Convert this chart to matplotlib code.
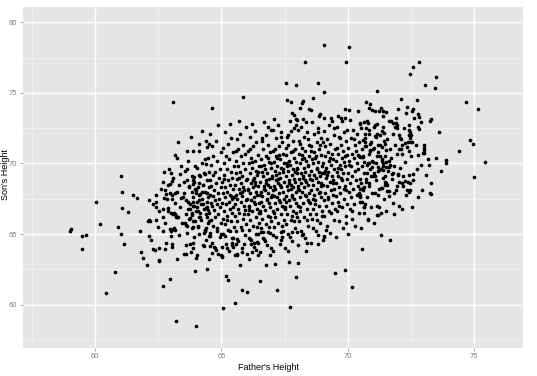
import matplotlib
matplotlib.use("Agg")
import matplotlib.pyplot as plt

# ---- data: (father height, son height) pairs ----
edge_top = [(63.10,74.33),(69.07,78.37),(70.07,78.23),(69.92,77.22),(68.31,77.15),(67.55,75.71),(67.94,75.55),
    (68.84,75.69),(69.05,75.07),(65.86,74.68),(64.63,73.90),(67.59,74.49),(67.76,74.33),(68.23,74.42),(68.19,74.28),
    (68.61,74.65),(68.10,73.94),(67.81,73.59),(67.86,73.43),(68.48,73.85),(68.56,73.80),(69.91,73.87),(70.07,73.78),
    (70.39,73.69),(68.90,73.50),(68.85,73.36),(69.07,73.19),(69.33,73.24),(69.62,73.36),(69.75,73.24),(69.91,73.19),
    (67.95,73.12),(68.00,73.10),(68.24,73.12),(67.08,73.12),
    (72.81,77.19),(72.57,76.80),(72.45,76.35),(73.51,76.09),(73.07,75.57),(73.44,75.34),(71.16,75.10),(72.10,74.58),
    (72.73,74.49),(74.69,74.33),(75.18,73.83),(70.74,74.37),(70.88,74.20),(70.84,73.92),(70.96,73.80),(71.08,73.71),
    (71.25,73.69),(71.38,73.73),(71.50,73.64),(71.31,73.92),(71.41,73.38),(72.00,73.83),(72.36,73.99),(72.60,73.87),
    (72.56,73.73),(72.32,73.59),(71.92,73.19),(72.61,73.19),(72.81,73.26),(73.28,73.12)]

edge_right = [(74.83,71.66),(74.96,71.40),(74.42,70.86),(75.44,70.08),(74.99,69.02),(73.89,70.25),(73.90,70.01),
    (73.03,71.31),(73.03,71.12),(73.04,70.95),(73.04,70.76),(72.97,70.76),(73.19,70.32),(73.22,69.87),(72.75,69.63),
    (72.60,69.24),(72.95,68.11),(73.27,67.89),(73.30,67.84),(72.77,67.63),(72.16,66.74),(71.82,66.41),(71.15,66.36),
    (71.21,66.36),(70.82,66.10),(70.64,66.88),(72.90,72.95),(73.27,73.00),(72.77,72.60),(72.84,72.46),(72.43,72.72),
    (72.43,72.37),(72.48,72.20),(72.42,71.99),(72.52,72.03),(72.48,71.78),(72.53,71.54),(72.49,71.50),(72.07,71.80),
    (72.12,71.76),(72.28,71.47),(72.17,71.33),(72.33,71.19),(72.04,71.00),(72.41,70.88),(72.16,70.65),(72.79,70.58),
    (70.49,70.44),(70.55,70.48),(70.62,70.44),(70.66,70.13),(70.75,69.89),(70.84,70.06),(71.01,70.13),(70.97,69.77),
    (71.17,70.55),(71.28,70.55),(71.37,70.20),(71.41,70.01),(71.31,69.59),(71.39,69.54),(71.24,69.54),(71.21,69.77),
    (71.63,70.18),(71.52,69.77),(71.63,69.77),(70.78,69.31),(70.73,68.71),(70.86,68.60),(70.99,69.12),(71.08,69.12),
    (71.48,68.71),(71.52,68.60),(71.77,69.24),(71.79,69.35),(71.98,69.26),(72.20,69.12),(72.04,68.71),(72.26,68.74),
    (72.37,68.67),(72.45,68.60),(72.20,68.39),(71.95,68.41),(72.33,68.15),(72.41,68.08),(72.48,68.15),(71.63,68.04),
    (71.57,68.08),(71.31,68.27),(71.37,68.27),(71.21,67.77),(70.49,68.18),(70.49,67.75),(70.49,67.61),(70.59,68.25),
    (70.66,66.88),(70.49,72.88),(70.64,72.95),(70.79,72.88),(71.04,72.60),(71.17,72.79),(71.41,72.60),(71.45,72.13),
    (71.28,72.01),(71.08,71.96),(70.68,72.06),(70.72,72.49),(70.86,72.37),(70.62,71.66),(70.67,71.50),(70.67,71.24),
    (70.88,71.38),(70.88,70.95),(71.05,71.12),(71.21,71.31),(71.37,71.19),(71.48,71.36),(71.52,70.93),(71.70,73.03),
    (71.81,72.88),(71.92,72.88),(71.96,72.72),(71.87,72.60)]

edge_left = [(64.13,71.40),(64.50,71.36),(64.42,71.14),(63.89,70.86),(63.26,70.39),(64.37,70.34),(64.39,69.94),
    (64.50,69.38),(64.37,69.24),(63.65,69.59),(62.91,69.59),(62.73,69.38),(63.01,69.35),(63.35,69.26),(61.02,69.12),
    (62.68,68.69),(62.89,68.50),(63.03,68.78),(62.97,68.55),(63.52,68.69),(63.92,68.69),(63.89,68.57),(63.72,68.36),
    (61.08,67.99),(61.50,67.75),(61.67,67.58),(60.04,67.28),(61.07,66.81),(61.31,66.57),(60.21,65.70),(60.92,65.53),
    (59.04,65.37),(62.14,67.42),(62.41,67.73),(62.41,67.26),(62.41,66.90),(62.53,66.62),(62.15,66.01),(62.19,65.89),
    (62.78,68.11),(62.82,67.82),(62.74,67.54),(63.05,67.75),(63.18,67.92),(63.06,67.45),(62.89,66.84),(63.14,66.46),
    (63.22,66.28),(63.09,66.42),(63.27,66.20),(62.78,65.78),(62.97,65.39),(63.10,65.39),
    (64.13,68.60),(63.96,68.20),(63.83,68.01),(64.22,68.01),(64.26,68.48),(64.50,68.36),(64.42,67.30),(64.29,67.12),
    (64.13,67.42),(63.89,67.30),(63.68,67.30),(63.76,66.76),(63.89,67.00),(64.05,66.88),(64.00,66.60),(64.16,66.52),
    (64.38,66.83),(64.48,66.71),(64.43,66.24),(64.13,66.20),(63.83,66.36),(63.76,66.13),(63.86,65.94),(63.60,65.65),
    (63.65,65.58),(63.89,65.53),(64.09,65.58),(64.38,65.42),(64.50,65.89),(63.17,66.43),(63.26,66.24),(62.84,67.47),
    (62.70,66.76),(63.39,67.54),(64.13,69.19),(63.92,69.02),(63.89,68.83),(64.17,67.84),(64.00,67.89),(64.43,67.94),
    (62.20,64.60),(62.50,65.50),(62.70,66.20),(62.30,67.10),(62.90,66.60),(62.60,68.20),(62.10,65.90),(62.80,64.40),
    (62.40,66.00),(62.95,67.90)]

edge_bottom = [(59.01,65.25),(59.49,64.86),(59.64,64.95),(59.49,63.96),(61.03,64.97),(61.13,64.29),(60.78,62.28),
    (60.42,60.80),(61.77,65.21),(62.15,64.86),(61.82,63.75),(61.90,63.27),(62.05,62.81),(62.30,63.96),(62.37,63.84),
    (62.53,64.03),(62.78,63.94),(62.53,63.13),(62.68,65.25),(63.01,65.25),(63.17,65.28),(63.01,64.83),(63.04,64.26),
    (63.26,63.23),(62.95,61.79),(62.68,61.29),(63.22,58.82),(63.98,58.52),(63.59,64.19),(63.87,64.33),(63.89,63.98),
    (63.79,63.75),(63.60,63.56),(64.00,63.30),(64.33,64.15),(63.95,62.35),(64.45,62.54),(64.30,65.09),(64.37,65.25),
    (64.51,64.86),
    (65.05,59.79),(65.55,60.09),(67.72,59.84),(65.82,61.06),(66.00,60.92),(67.19,61.06),(66.54,61.67),(65.19,62.03),
    (65.26,61.72),(67.94,61.93),(69.48,62.24),(69.91,62.47),(70.18,61.25),(65.75,62.83),(66.77,62.78),(67.12,62.90),
    (67.68,63.02),(68.03,62.92),(66.08,63.20),(66.46,63.55),(66.94,63.51),(66.21,63.70),(65.81,63.72),(65.62,63.51),
    (67.64,63.79),(66.96,64.01),(68.39,64.38),(68.81,64.29),(69.05,64.83),(69.06,64.76),(68.20,64.90),(68.00,65.11),
    (67.81,65.14),(67.37,65.11),(67.39,64.78),(67.06,64.90),(71.31,64.93),(71.67,64.55),(70.57,63.94),
    (64.55,64.88),(64.82,65.18),(65.00,64.97),(65.16,64.83),(65.34,65.18),(65.45,64.71),(65.61,64.64),(65.56,64.29),
    (65.41,64.19),(65.45,64.05),(65.41,64.36),(65.01,64.10),(64.74,64.01),(64.56,64.12),(64.63,63.65),(64.86,63.60),
    (64.97,63.53),(65.01,63.41),(65.21,64.01),(65.61,63.56),(66.08,64.71),(66.12,64.64),(66.19,64.29),(66.28,64.36),
    (66.41,64.47),(66.46,64.40),(66.36,65.02),(66.58,65.11),(66.64,65.14),(66.83,65.11),(66.69,64.64),(62.55,63.10)]

core_63 = [(63.04,64.1),(63.31,64.9),(63.12,65.4),(63.43,65.8),(63.22,66.2),(63.02,66.5),(63.36,66.9),(63.15,67.2),
    (63.47,67.6),(63.25,68.0),(63.33,68.5),(63.08,69.0),(63.41,69.8),(63.18,70.6),(63.27,71.5),
    (63.52,63.6),(63.74,64.3),(63.91,64.8),(63.63,65.1),(63.85,65.4),(63.55,65.8),(63.96,65.9),(63.71,66.1),
    (63.58,66.4),(63.82,66.5),(63.67,66.8),(63.93,67.0),(63.77,67.1),(63.61,67.4),(63.88,67.6),(63.53,67.9),
    (63.98,68.1),(63.72,68.4),(63.64,68.8),(63.84,69.1),(63.56,69.5),(63.94,69.8),(63.69,70.2),(63.62,70.9),(63.81,71.9)]

core_64 = [(64.03,63.5),(64.27,64.2),(64.41,64.6),(64.12,65.0),(64.35,65.3),(64.06,65.5),(64.46,65.8),(64.21,66.0),
    (64.15,66.2),(64.38,66.4),(64.09,66.6),(64.31,66.8),(64.44,66.9),(64.18,67.1),(64.02,67.3),(64.25,67.5),
    (64.48,67.6),(64.13,67.8),(64.36,68.0),(64.07,68.3),(64.29,68.5),(64.42,68.8),(64.17,69.1),(64.33,69.3),
    (64.05,69.7),(64.24,70.0),(64.47,70.4),(64.11,70.9),(64.39,71.6),(64.22,72.3),
    (64.52,63.2),(64.78,63.9),(64.61,64.4),(64.93,64.8),(64.55,65.1),(64.84,65.4),(64.67,65.6),(64.98,65.8),
    (64.59,66.0),(64.73,66.2),(64.88,66.4),(64.51,66.5),(64.69,66.7),(64.95,66.9),(64.63,67.0),(64.81,67.1),
    (64.57,67.2),(64.76,67.4),(64.91,67.5),(64.65,67.7),(64.53,67.8),(64.86,67.9),(64.71,68.1),(64.97,68.3),
    (64.60,68.4),(64.80,68.6),(64.54,68.8),(64.89,69.0),(64.68,69.2),(64.75,69.4),(64.94,69.6),(64.58,69.9),
    (64.83,70.2),(64.66,70.5),(64.99,70.8),(64.62,71.2),(64.79,71.6),(64.56,72.1),(64.87,72.7),(64.72,64.1)]

core_65 = [(65.02,63.4),(65.31,63.8),(65.17,64.3),(65.44,64.7),(65.08,65.0),(65.26,65.3),(65.49,65.5),(65.13,65.7),
    (65.38,65.9),(65.05,66.1),(65.22,66.3),(65.41,66.5),(65.11,66.6),(65.34,66.8),(65.47,66.9),(65.19,67.1),
    (65.03,67.2),(65.29,67.3),(65.42,67.5),(65.14,67.6),(65.36,67.8),(65.07,67.9),(65.24,68.0),(65.46,68.2),
    (65.16,68.3),(65.33,68.5),(65.01,68.7),(65.28,68.8),(65.43,69.0),(65.12,69.2),(65.37,69.4),(65.21,69.6),
    (65.48,69.8),(65.09,70.0),(65.32,70.3),(65.18,70.5),(65.45,70.8),(65.06,71.1),(65.27,71.4),(65.39,71.8),
    (65.15,72.2),(65.35,72.8),(65.23,66.0),(65.40,67.7),(65.10,68.9),
    (65.53,63.5),(65.81,64.0),(65.64,64.5),(65.92,64.9),(65.57,65.2),(65.76,65.5),(65.98,65.7),(65.61,65.9),
    (65.85,66.1),(65.52,66.3),(65.71,66.5),(65.94,66.7),(65.66,66.8),(65.88,67.0),(65.55,67.1),(65.79,67.3),
    (65.96,67.4),(65.62,67.5),(65.83,67.7),(65.58,67.8),(65.74,67.9),(65.91,68.1),(65.68,68.2),(65.86,68.3),
    (65.54,68.5),(65.78,68.6),(65.99,68.8),(65.63,68.9),(65.82,69.1),(65.59,69.3),(65.73,69.4),(65.95,69.6),
    (65.67,69.8),(65.87,70.0),(65.56,70.2),(65.77,70.5),(65.93,70.7),(65.65,71.0),(65.84,71.3),(65.60,71.7),
    (65.75,72.1),(65.97,72.6),(65.70,73.0),(65.89,66.4),(65.51,67.6),(65.80,68.0),(65.69,69.0),(65.90,64.3),
    (65.58,70.9),(65.83,65.3)]

core_66 = [(66.03,63.6),(66.31,64.1),(66.17,64.6),(66.44,65.0),(66.08,65.3),(66.26,65.6),(66.49,65.8),(66.13,66.0),
    (66.38,66.2),(66.05,66.4),(66.22,66.6),(66.41,66.8),(66.11,66.9),(66.34,67.1),(66.47,67.2),(66.19,67.4),
    (66.02,67.5),(66.29,67.6),(66.42,67.8),(66.14,67.9),(66.36,68.0),(66.07,68.2),(66.24,68.3),(66.46,68.4),
    (66.16,68.6),(66.33,68.7),(66.01,68.9),(66.28,69.0),(66.43,69.2),(66.12,69.3),(66.37,69.5),(66.21,69.7),
    (66.48,69.8),(66.09,70.0),(66.32,70.2),(66.18,70.4),(66.45,70.6),(66.06,70.9),(66.27,71.2),(66.39,71.5),
    (66.15,71.9),(66.35,72.3),(66.23,72.8),(66.40,65.5),(66.10,66.7),(66.30,67.3),(66.04,68.1),(66.25,68.8),
    (66.44,69.4),(66.20,70.1),(66.36,63.9),(66.12,71.0),(66.47,66.5),(66.08,67.0),(66.33,68.5),
    (66.53,63.7),(66.81,64.2),(66.64,64.7),(66.92,65.1),(66.57,65.4),(66.76,65.7),(66.98,65.9),(66.61,66.1),
    (66.85,66.3),(66.52,66.5),(66.71,66.7),(66.94,66.9),(66.66,67.0),(66.88,67.2),(66.55,67.3),(66.79,67.5),
    (66.96,67.6),(66.62,67.7),(66.83,67.9),(66.58,68.0),(66.74,68.1),(66.91,68.3),(66.68,68.4),(66.86,68.5),
    (66.54,68.7),(66.78,68.8),(66.99,69.0),(66.63,69.1),(66.82,69.3),(66.59,69.4),(66.73,69.6),(66.95,69.7),
    (66.67,69.9),(66.87,70.1),(66.56,70.3),(66.77,70.5),(66.93,70.8),(66.65,71.0),(66.84,71.3),(66.60,71.6),
    (66.75,72.0),(66.97,72.4),(66.70,72.9),(66.89,65.5),(66.51,66.6),(66.80,67.4),(66.69,68.2),(66.90,68.9),
    (66.58,69.8),(66.83,70.4),(66.72,64.5),(66.62,71.8),(66.94,66.2),(66.54,67.8),(66.77,68.6),(66.98,70.0),
    (66.86,72.6)]

core_67 = [(67.03,63.8),(67.31,64.3),(67.17,64.8),(67.44,65.2),(67.08,65.5),(67.26,65.8),(67.49,66.0),(67.13,66.2),
    (67.38,66.4),(67.05,66.6),(67.22,66.8),(67.41,67.0),(67.11,67.2),(67.34,67.3),(67.47,67.5),(67.19,67.6),
    (67.02,67.8),(67.29,67.9),(67.42,68.0),(67.14,68.2),(67.36,68.3),(67.07,68.4),(67.24,68.6),(67.46,68.7),
    (67.16,68.8),(67.33,69.0),(67.01,69.1),(67.28,69.3),(67.43,69.4),(67.12,69.5),(67.37,69.7),(67.21,69.8),
    (67.48,70.0),(67.09,70.1),(67.32,70.3),(67.18,70.5),(67.45,70.7),(67.06,70.9),(67.27,71.2),(67.39,71.5),
    (67.15,71.8),(67.35,72.2),(67.23,72.7),(67.40,65.6),(67.10,66.5),(67.30,67.4),(67.04,68.1),(67.25,68.9),
    (67.44,69.6),(67.20,70.4),(67.36,64.6),(67.12,71.0),(67.47,66.9),(67.08,67.7),(67.33,68.5),(67.27,70.6),
    (67.03,72.4),(67.16,69.2),(67.38,71.9),
    (67.53,64.0),(67.81,64.5),(67.64,65.0),(67.92,65.4),(67.57,65.7),(67.76,66.0),(67.98,66.2),(67.61,66.4),
    (67.85,66.6),(67.52,66.8),(67.71,67.0),(67.94,67.2),(67.66,67.4),(67.88,67.5),(67.55,67.7),(67.79,67.8),
    (67.96,68.0),(67.62,68.1),(67.83,68.3),(67.58,68.4),(67.74,68.5),(67.91,68.7),(67.68,68.8),(67.86,68.9),
    (67.54,69.1),(67.78,69.2),(67.99,69.3),(67.63,69.5),(67.82,69.6),(67.59,69.8),(67.73,69.9),(67.95,70.1),
    (67.67,70.2),(67.87,70.4),(67.56,70.6),(67.77,70.8),(67.93,71.0),(67.65,71.3),(67.84,71.6),(67.60,71.9),
    (67.75,72.3),(67.97,72.7),(67.70,73.0),(67.89,65.9),(67.51,66.9),(67.80,67.6),(67.69,68.6),(67.90,69.4),
    (67.58,70.0),(67.83,70.9),(67.72,64.8),(67.62,72.0),(67.94,66.5),(67.54,67.3),(67.77,68.2),(67.98,69.7),
    (67.86,72.5),(67.57,71.1),(67.79,66.3)]

core_68 = [(68.03,64.2),(68.31,64.7),(68.17,65.2),(68.44,65.6),(68.08,65.9),(68.26,66.2),(68.49,66.4),(68.13,66.6),
    (68.38,66.8),(68.05,67.0),(68.22,67.2),(68.41,67.4),(68.11,67.6),(68.34,67.7),(68.47,67.9),(68.19,68.0),
    (68.02,68.2),(68.29,68.3),(68.42,68.5),(68.14,68.6),(68.36,68.7),(68.07,68.9),(68.24,69.0),(68.46,69.2),
    (68.16,69.3),(68.33,69.4),(68.01,69.6),(68.28,69.7),(68.43,69.9),(68.12,70.0),(68.37,70.2),(68.21,70.3),
    (68.48,70.5),(68.09,70.7),(68.32,70.9),(68.18,71.1),(68.45,71.3),(68.06,71.6),(68.27,71.9),(68.39,72.2),
    (68.15,72.6),(68.35,72.9),(68.23,65.0),(68.40,66.0),(68.10,66.9),(68.30,67.8),(68.04,68.4),(68.25,69.1),
    (68.44,69.8),(68.20,70.6),(68.36,63.8),(68.12,71.4),(68.47,67.3),(68.08,68.1),(68.33,68.8),(68.27,70.4),
    (68.03,72.4),(68.42,71.7),
    (68.53,64.4),(68.81,64.9),(68.64,65.4),(68.92,65.8),(68.57,66.1),(68.76,66.4),(68.98,66.6),(68.61,66.8),
    (68.85,67.0),(68.52,67.2),(68.71,67.4),(68.94,67.6),(68.66,67.8),(68.88,67.9),(68.55,68.1),(68.79,68.2),
    (68.96,68.4),(68.62,68.5),(68.83,68.7),(68.58,68.8),(68.74,69.0),(68.91,69.1),(68.68,69.2),(68.86,69.4),
    (68.54,69.5),(68.78,69.7),(68.99,69.8),(68.63,70.0),(68.82,70.1),(68.59,70.3),(68.73,70.5),(68.95,70.6),
    (68.67,70.8),(68.87,71.0),(68.56,71.2),(68.77,71.5),(68.93,71.8),(68.65,72.1),(68.84,72.5),(68.60,72.9),
    (68.75,65.2),(68.97,66.3),(68.70,67.1),(68.89,68.0),(68.51,68.9),(68.80,69.6),(68.69,70.4),(68.90,71.3),
    (68.83,72.2),(68.62,67.5),(68.94,68.6),(68.54,70.9),(68.77,66.0),(68.98,69.3)]

core_69 = [(69.03,64.6),(69.31,65.1),(69.17,65.6),(69.44,66.0),(69.08,66.3),(69.26,66.6),(69.49,66.8),(69.13,67.0),
    (69.38,67.2),(69.05,67.4),(69.22,67.6),(69.41,67.8),(69.11,67.9),(69.34,68.1),(69.47,68.2),(69.19,68.4),
    (69.02,68.5),(69.29,68.7),(69.42,68.8),(69.14,69.0),(69.36,69.1),(69.07,69.3),(69.24,69.4),(69.46,69.6),
    (69.16,69.7),(69.33,69.9),(69.01,70.0),(69.28,70.2),(69.43,70.3),(69.12,70.5),(69.37,70.7),(69.21,70.8),
    (69.48,71.0),(69.09,71.2),(69.32,71.4),(69.18,71.7),(69.45,72.0),(69.06,72.3),(69.27,72.7),(69.39,73.0),
    (69.15,65.3),(69.35,66.5),(69.23,67.5),(69.40,68.6),(69.10,69.5),(69.30,70.4),(69.04,71.5),(69.44,72.5),
    (69.20,69.2),
    (69.53,64.8),(69.81,65.4),(69.64,65.9),(69.92,66.3),(69.57,66.6),(69.76,66.9),(69.98,67.1),(69.61,67.3),
    (69.85,67.5),(69.52,67.7),(69.71,67.9),(69.94,68.1),(69.66,68.3),(69.88,68.4),(69.55,68.6),(69.79,68.8),
    (69.96,68.9),(69.62,69.1),(69.83,69.3),(69.58,69.4),(69.74,69.6),(69.91,69.8),(69.68,69.9),(69.86,70.1),
    (69.54,70.2),(69.78,70.4),(69.99,70.6),(69.63,70.7),(69.82,70.9),(69.59,71.1),(69.73,71.3),(69.95,71.6),
    (69.67,71.9),(69.87,72.2),(69.56,72.6),(69.77,73.0),(69.93,65.8),(69.65,67.0),(69.84,68.2),(69.60,69.7),
    (69.89,70.5),(69.70,71.8),(69.97,72.4),(69.75,69.0)]

core_70 = [(70.03,65.0),(70.31,65.6),(70.17,66.1),(70.44,66.5),(70.08,66.8),(70.26,67.1),(70.49,67.3),(70.13,67.6),
    (70.38,67.8),(70.05,68.0),(70.22,68.2),(70.41,68.4),(70.11,68.6),(70.34,68.8),(70.47,68.9),(70.19,69.1),
    (70.02,69.3),(70.29,69.5),(70.42,69.6),(70.14,69.8),(70.36,70.0),(70.07,70.2),(70.24,70.4),(70.46,70.5),
    (70.16,70.7),(70.33,70.9),(70.01,71.1),(70.28,71.3),(70.43,71.5),(70.12,71.8),(70.37,72.1),(70.21,72.4),
    (70.48,72.8),(70.09,73.1),(70.18,66.6),(70.45,67.9),(70.06,69.9),(70.27,71.7),(70.39,70.6),
    (70.53,65.4),(70.81,66.0),(70.64,66.5),(70.92,66.9),(70.57,67.3),(70.76,67.6),(70.98,67.9),(70.61,68.1),
    (70.85,68.4),(70.52,68.6),(70.71,68.9),(70.94,69.1),(70.66,69.3),(70.88,69.6),(70.55,69.8),(70.79,70.0),
    (70.96,70.2),(70.62,70.5),(70.83,70.7),(70.58,71.0),(70.74,71.2),(70.91,71.5),(70.68,71.8),(70.86,72.1),
    (70.54,72.5),(70.78,73.0),(70.65,68.3),(70.89,70.9),(70.70,67.1)]

core_71 = [(71.03,65.8),(71.31,66.5),(71.17,67.0),(71.44,67.5),(71.08,67.9),(71.26,68.2),(71.49,68.5),(71.13,68.8),
    (71.38,69.0),(71.05,69.3),(71.22,69.5),(71.41,69.8),(71.11,70.0),(71.34,70.3),(71.47,70.5),(71.19,70.8),
    (71.02,71.0),(71.29,71.3),(71.42,71.6),(71.14,71.9),(71.36,72.3),(71.07,72.7),(71.24,66.9),(71.46,69.1),
    (71.16,72.1),
    (71.53,66.6),(71.81,67.2),(71.64,67.7),(71.92,68.1),(71.57,68.5),(71.76,68.9),(71.98,69.2),(71.61,69.5),
    (71.85,69.8),(71.52,70.1),(71.71,70.4),(71.94,70.7),(71.66,71.0),(71.88,71.3),(71.55,71.7),(71.79,72.1),
    (71.96,72.5),(71.62,73.0),(71.83,67.9),(71.69,69.9)]

core_72 = [(72.03,67.0),(72.31,67.8),(72.17,68.6),(72.44,69.2),(72.08,69.7),(72.26,70.1),(72.49,70.5),(72.13,71.0),
    (72.38,71.5),(72.05,72.0),(72.22,72.5),(72.41,68.0),(72.60,68.8),(72.90,69.9),(73.10,69.2),(72.70,71.3),
    (73.30,68.6),(73.50,70.4),(72.55,66.9),(73.70,69.5),(73.60,72.2),(72.80,73.5)]

groups = [edge_top, edge_right, edge_left, edge_bottom, core_63, core_64, core_65,
          core_66, core_67, core_68, core_69, core_70, core_71, core_72]
father = [p[0] for g in groups for p in g]
son = [p[1] for g in groups for p in g]

x_ticks = [60, 65, 70, 75]
y_ticks = [60, 65, 70, 75, 80]
x_minor = [57.5, 62.5, 67.5, 72.5]
y_minor = [57.5, 62.5, 67.5, 72.5, 77.5]

# ---- figure ----
W, H = 537, 376
fig = plt.figure(figsize=(W / 100, H / 100), dpi=100)
ax_l, ax_r, ax_t, ax_b = 22.6, 522.7, 7.0, 347.7
ax = fig.add_axes([ax_l / W, 1 - ax_b / H, (ax_r - ax_l) / W, (ax_b - ax_t) / H])
ax.set_facecolor("#E5E5E5")
ax.set_xlim(57.13, 76.93)
ax.set_ylim(56.95, 81.08)

for v in x_minor:
    ax.axvline(v, color="#F2F2F2", lw=0.5, zorder=0)
for v in y_minor:
    ax.axhline(v, color="#F2F2F2", lw=0.5, zorder=0)
for v in x_ticks:
    ax.axvline(v, color="white", lw=1.0, zorder=0)
for v in y_ticks:
    ax.axhline(v, color="white", lw=1.0, zorder=0)

ax.scatter(father, son, s=7, color="black", linewidths=0, zorder=3)

ax.set_xticks(x_ticks)
ax.set_yticks(y_ticks)
ax.set_xticklabels([str(t) for t in x_ticks])
ax.set_yticklabels([str(t) for t in y_ticks])
for s in ax.spines.values():
    s.set_visible(False)
ax.tick_params(axis="both", colors="#7F7F7F", labelsize=5.5, length=2.2, width=0.5,
               pad=1.5, labelcolor="#7F7F7F")
for lab in ax.get_xticklabels() + ax.get_yticklabels():
    lab.set_family("Liberation Sans")

ax.set_xlabel("Father's Height", fontsize=6.5, family="Liberation Sans")
ax.set_ylabel("Son's Height", fontsize=6.5, family="Liberation Sans")
ax.xaxis.set_label_coords((268 - ax_l) / (ax_r - ax_l), -(368 - ax_b) / (ax_b - ax_t))
ax.yaxis.set_label_coords(-(ax_l - 5.5) / (ax_r - ax_l), (ax_b - 174) / (ax_b - ax_t))
ax.xaxis.label.set_va("center")
ax.yaxis.label.set_va("center")

fig.savefig("out.png", dpi=100)
